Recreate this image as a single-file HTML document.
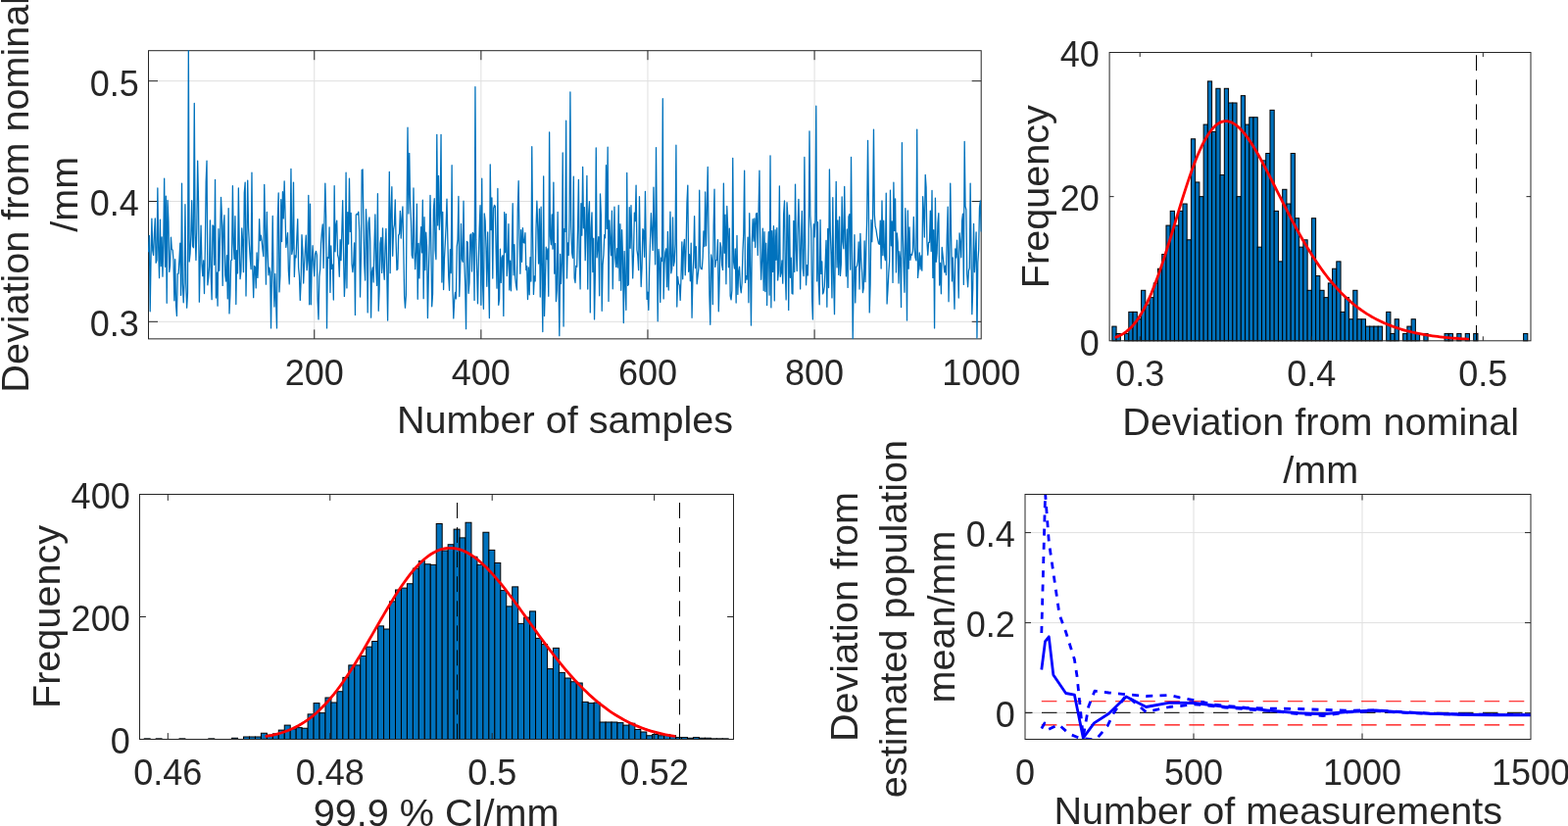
<!DOCTYPE html>
<html><head><meta charset="utf-8"><title>figure</title>
<style>html,body{margin:0;padding:0;background:#fff;overflow:hidden}svg{display:block}
text{font-family:'Liberation Sans', Arial, Helvetica, sans-serif;fill:#262626}</style></head>
<body><svg width="1600" height="843" viewBox="0 0 1600 843">
<rect width="1600" height="843" fill="#fff"/>
<line x1="320.76" y1="51.7" x2="320.76" y2="345.85" stroke="#dfdfdf" stroke-width="1"/>
<line x1="490.87" y1="51.7" x2="490.87" y2="345.85" stroke="#dfdfdf" stroke-width="1"/>
<line x1="660.98" y1="51.7" x2="660.98" y2="345.85" stroke="#dfdfdf" stroke-width="1"/>
<line x1="831.09" y1="51.7" x2="831.09" y2="345.85" stroke="#dfdfdf" stroke-width="1"/>
<line x1="151.5" y1="328.3" x2="1001.2" y2="328.3" stroke="#dfdfdf" stroke-width="1"/>
<line x1="151.5" y1="205.5" x2="1001.2" y2="205.5" stroke="#dfdfdf" stroke-width="1"/>
<line x1="151.5" y1="82.7" x2="1001.2" y2="82.7" stroke="#dfdfdf" stroke-width="1"/>
<rect x="151.5" y="51.7" width="849.7" height="294.15" fill="none" stroke="#262626" stroke-width="1"/>
<line x1="320.76" y1="345.85" x2="320.76" y2="336.35" stroke="#262626" stroke-width="1"/>
<line x1="320.76" y1="51.7" x2="320.76" y2="61.2" stroke="#262626" stroke-width="1"/>
<line x1="490.87" y1="345.85" x2="490.87" y2="336.35" stroke="#262626" stroke-width="1"/>
<line x1="490.87" y1="51.7" x2="490.87" y2="61.2" stroke="#262626" stroke-width="1"/>
<line x1="660.98" y1="345.85" x2="660.98" y2="336.35" stroke="#262626" stroke-width="1"/>
<line x1="660.98" y1="51.7" x2="660.98" y2="61.2" stroke="#262626" stroke-width="1"/>
<line x1="831.09" y1="345.85" x2="831.09" y2="336.35" stroke="#262626" stroke-width="1"/>
<line x1="831.09" y1="51.7" x2="831.09" y2="61.2" stroke="#262626" stroke-width="1"/>
<line x1="151.5" y1="328.3" x2="161" y2="328.3" stroke="#262626" stroke-width="1"/>
<line x1="1001.2" y1="328.3" x2="991.7" y2="328.3" stroke="#262626" stroke-width="1"/>
<line x1="151.5" y1="205.5" x2="161" y2="205.5" stroke="#262626" stroke-width="1"/>
<line x1="1001.2" y1="205.5" x2="991.7" y2="205.5" stroke="#262626" stroke-width="1"/>
<line x1="151.5" y1="82.7" x2="161" y2="82.7" stroke="#262626" stroke-width="1"/>
<line x1="1001.2" y1="82.7" x2="991.7" y2="82.7" stroke="#262626" stroke-width="1"/>
<clipPath id="c1"><rect x="151" y="51.2" width="850.7" height="295.15"/></clipPath>
<g clip-path="url(#c1)">
<polyline points="151.5,257.35 152.35,240.39 153.2,317.74 154.05,262.4 154.9,223.03 155.75,255.65 156.6,260.43 157.45,239 158.3,222.84 159.15,268.35 160.01,265.51 160.86,191.99 161.71,254.13 162.56,283.64 163.41,224.12 164.26,271.62 165.11,241.89 165.96,282.17 166.81,246.1 167.66,182.17 168.51,272.3 169.36,200.16 170.21,309.27 171.06,204.42 171.91,225.71 172.76,277.4 173.61,271.01 174.46,242.25 175.32,254.7 176.17,255.01 177.02,266.25 177.87,306.84 178.72,264.71 179.57,311.94 180.42,322.41 181.27,279.41 182.12,279.13 182.97,264.58 183.82,248.11 184.67,301.37 185.52,187.08 186.37,290.01 187.22,308.8 188.07,287.7 188.92,208.67 189.77,289.82 190.63,314.18 191.48,299.08 192.33,50.77 193.18,266.98 194.03,258.61 194.88,239.43 195.73,204.61 196.58,251.21 197.43,252.79 198.28,105.42 199.13,238.49 199.98,265.58 200.83,231.73 201.68,164.12 202.53,204.93 203.38,308.19 204.23,266.62 205.08,230.04 205.94,269.27 206.79,281.72 207.64,265.85 208.49,299.48 209.34,253.36 210.19,185.87 211.04,164.12 211.89,290.86 212.74,283.37 213.59,271.89 214.44,225 215.29,282.03 216.14,305.7 216.99,229.87 217.84,230.87 218.69,270.34 219.54,183.4 220.39,304.03 221.25,278.19 222.1,312.19 222.95,233.55 223.8,276.32 224.65,240.79 225.5,201.4 226.35,219.43 227.2,291.47 228.05,230.78 228.9,219.72 229.75,280.56 230.6,287.01 231.45,260.76 232.3,304.87 233.15,212.61 234,319.89 234.85,301.16 235.7,265.88 236.56,265.15 237.41,189.54 238.26,248.25 239.11,264.23 239.96,220.66 240.81,310.54 241.66,255.68 242.51,278.91 243.36,191.99 244.21,249.83 245.06,284.7 245.91,276.96 246.76,232.82 247.61,246.19 248.46,277.7 249.31,196.77 250.16,186.07 251.01,302.02 251.86,247.43 252.72,184.11 253.57,233 254.42,249.8 255.27,263.66 256.12,274.62 256.97,176.03 257.82,274.72 258.67,303.62 259.52,271.38 260.37,272.62 261.22,293.96 262.07,257.8 262.92,283.44 263.77,263.35 264.62,223.63 265.47,245.53 266.32,240.23 267.17,246.16 268.03,254.82 268.88,261.69 269.73,188.31 270.58,233.45 271.43,290.12 272.28,216.3 273.13,255.15 273.98,280.84 274.83,273.19 275.68,277.62 276.53,334.93 277.38,279.29 278.23,220.51 279.08,281.59 279.93,313.05 280.78,279.46 281.63,308.29 282.48,334.93 283.34,222.77 284.19,196.9 285.04,297.95 285.89,281.38 286.74,203.56 287.59,246.59 288.44,195.68 289.29,222.87 290.14,184.87 290.99,216.67 291.84,252.42 292.69,246.17 293.54,237.58 294.39,276.26 295.24,289.91 296.09,254.97 296.94,172.34 297.79,259.48 298.65,254 299.5,186.07 300.35,282.38 301.2,261 302.05,262.94 302.9,242.23 303.75,223.58 304.6,273.21 305.45,282.03 306.3,306.44 307.15,286.26 308,239.76 308.85,255.06 309.7,289.07 310.55,270.22 311.4,255.17 312.25,240.23 313.1,275.62 313.96,265.7 314.81,199.36 315.66,310.74 316.51,208.05 317.36,310.77 318.21,268.18 319.06,250.67 319.91,270.4 320.76,281.8 321.61,259.11 322.46,256.43 323.31,260.22 324.16,307.11 325.01,325.97 325.86,282.53 326.71,274.72 327.56,248.98 328.41,236.77 329.27,228.92 330.12,273.5 330.97,227.84 331.82,187.08 332.67,220.69 333.52,334.93 334.37,262.6 335.22,263.26 336.07,231.85 336.92,298.43 337.77,250.8 338.62,274.44 339.47,270.15 340.32,306.01 341.17,189.54 342.02,256.75 342.87,229.57 343.72,225.2 344.57,260 345.43,263.5 346.28,282.25 347.13,244.64 347.98,265.69 348.83,237.77 349.68,204.68 350.53,257.48 351.38,302.47 352.23,283.21 353.08,176.03 353.93,293.93 354.78,216.54 355.63,249.04 356.48,182.17 357.33,236.39 358.18,217.48 359.03,269.35 359.88,277.6 360.74,268.11 361.59,247.86 362.44,321.42 363.29,219.11 364.14,218.32 364.99,219.04 365.84,216.08 366.69,235.81 367.54,303.09 368.39,262.19 369.24,173.57 370.09,172.96 370.94,228.62 371.79,269.37 372.64,286.04 373.49,213.65 374.34,235.67 375.19,318.97 376.05,227.29 376.9,221.89 377.75,246.25 378.6,324.13 379.45,277.55 380.3,272.97 381.15,288.04 382,251.2 382.85,218.94 383.7,273.1 384.55,291.36 385.4,197.6 386.25,317.25 387.1,295.12 387.95,248.51 388.8,242.31 389.65,278.46 390.5,232.86 391.36,273.17 392.21,285.32 393.06,251.74 393.91,233.28 394.76,276.34 395.61,327.07 396.46,260.53 397.31,175.37 398.16,278.62 399.01,215.46 399.86,190.76 400.71,261.29 401.56,234.12 402.41,229.41 403.26,203.9 404.11,246.56 404.96,275.63 405.81,274.62 406.67,240.19 407.52,238.66 408.37,215.3 409.22,243.1 410.07,222.76 410.92,211.01 411.77,252.17 412.62,302.43 413.47,314.18 414.32,301.59 415.17,208.56 416.02,130.22 416.87,218.04 417.72,156.38 418.57,205.19 419.42,225.01 420.27,260.66 421.12,263.54 421.98,191.99 422.83,251.94 423.68,274.62 424.53,257.48 425.38,208.16 426.23,305.3 427.08,248.36 427.93,283.87 428.78,251.63 429.63,231.66 430.48,257.97 431.33,204.27 432.18,304.68 433.03,221.6 433.88,275.64 434.73,237.13 435.58,251.68 436.43,324.57 437.28,281.09 438.14,250.28 438.99,199.36 439.84,247.82 440.69,312.83 441.54,299.97 442.39,213.78 443.24,202.7 444.09,255.29 444.94,264.65 445.79,137.35 446.64,229.95 447.49,179.52 448.34,234.29 449.19,217.47 450.04,137.35 450.89,288.11 451.74,216.35 452.59,295.49 453.45,264.16 454.3,248.07 455.15,230.03 456,203.04 456.85,244.77 457.7,281.16 458.55,296.33 459.4,254.64 460.25,278.64 461.1,168.66 461.95,296.09 462.8,324.86 463.65,307.03 464.5,298.33 465.35,304.92 466.2,251.69 467.05,244.5 467.9,200.48 468.76,302.5 469.61,277.68 470.46,228.48 471.31,264.56 472.16,267.28 473.01,205.2 473.86,268.25 474.71,291.9 475.56,335.67 476.41,246.42 477.26,247.33 478.11,299.33 478.96,288.25 479.81,239.92 480.66,238.98 481.51,277.11 482.36,237.28 483.21,239.05 484.07,306.44 484.92,88.59 485.77,244.39 486.62,275.2 487.47,309.73 488.32,266.19 489.17,233.54 490.02,209.74 490.87,311.31 491.72,182.17 492.57,291.22 493.42,315.28 494.27,217.96 495.12,225.4 495.97,252.37 496.82,292.34 497.67,237 498.52,279.12 499.38,324.55 500.23,167.82 501.08,234.55 501.93,202.02 502.78,284.04 503.63,212.64 504.48,209.34 505.33,210.32 506.18,256.97 507.03,294.2 507.88,192.48 508.73,311.33 509.58,305.15 510.43,254.08 511.28,288.42 512.13,263.04 512.98,260.76 513.83,322.41 514.69,216.55 515.54,257.68 516.39,218.34 517.24,281.59 518.09,267.48 518.94,228.63 519.79,295.94 520.64,266.13 521.49,296.75 522.34,253.77 523.19,207.7 524.04,280.86 524.89,249.58 525.74,283.52 526.59,291.44 527.44,295.92 528.29,213.51 529.14,184.62 529.99,240.76 530.85,279.28 531.7,234.57 532.55,267.31 533.4,232.57 534.25,247.51 535.1,248.03 535.95,237.65 536.8,275.53 537.65,271.75 538.5,305.53 539.35,272.84 540.2,300.83 541.05,262.56 541.9,287.11 542.75,149.75 543.6,241.95 544.45,300.43 545.3,281.93 546.16,286.87 547.01,233.7 547.86,205.24 548.71,231.09 549.56,269.1 550.41,213.26 551.26,303.02 552.11,211.2 552.96,277.26 553.81,338.51 554.66,179.8 555.51,322.41 556.36,289.34 557.21,252.1 558.06,264.53 558.91,253.87 559.76,302.28 560.61,134.89 561.47,240.89 562.32,249.75 563.17,218.88 564.02,254.14 564.87,186.05 565.72,279.13 566.57,248.28 567.42,307.6 568.27,296.08 569.12,216.42 569.97,286.79 570.82,342.67 571.67,259.52 572.52,289.57 573.37,268.59 574.22,155.89 575.07,333.09 575.92,233.48 576.78,236.43 577.63,123.22 578.48,283.95 579.33,247.94 580.18,260.58 581.03,224.07 581.88,94 582.73,231.58 583.58,257.54 584.43,263.25 585.28,180.08 586.13,283.81 586.98,288.49 587.83,271.3 588.68,272.33 589.53,233.93 590.38,183.4 591.23,263.51 592.09,294.93 592.94,207.69 593.79,240.21 594.64,170.5 595.49,232.82 596.34,211.54 597.19,265.69 598.04,234.14 598.89,179.28 599.74,295 600.59,219.14 601.44,205.76 602.29,318.97 603.14,233.35 603.99,216.88 604.84,277.49 605.69,243.15 606.54,325.97 607.4,277.9 608.25,150.85 609.1,262.75 609.95,252.37 610.8,241.63 611.65,301.84 612.5,197.93 613.35,219.05 614.2,317.25 615.05,270.09 615.9,260.29 616.75,239.7 617.6,242.72 618.45,168.66 619.3,233.43 620.15,150.11 621,307.57 621.85,224.84 622.71,245.03 623.56,260.79 624.41,215.14 625.26,294.85 626.11,252.14 626.96,211.12 627.81,263.54 628.66,272.38 629.51,253.64 630.36,273.02 631.21,209.6 632.06,286.4 632.91,228.71 633.76,296.32 634.61,234.74 635.46,260.74 636.31,329.51 637.16,256.44 638.01,290.7 638.87,316.39 639.72,176.52 640.57,291.4 641.42,290.28 642.27,211.59 643.12,253.26 643.97,209.61 644.82,246.53 645.67,283.88 646.52,259.76 647.37,217.07 648.22,225.7 649.07,189.04 649.92,254.98 650.77,260.84 651.62,275.62 652.47,200.73 653.32,255.67 654.18,292.58 655.03,273.21 655.88,233.56 656.73,235.83 657.58,262.26 658.43,195.43 659.28,255.31 660.13,305.39 660.98,298.27 661.83,316.39 662.68,273.34 663.53,244.8 664.38,217.62 665.23,235.66 666.08,255.47 666.93,191.09 667.78,234.89 668.63,269.86 669.49,150.61 670.34,242.92 671.19,327.81 672.04,254.43 672.89,263.17 673.74,308.57 674.59,263.27 675.44,266.57 676.29,100.75 677.14,304.93 677.99,270.07 678.84,257.58 679.69,253.78 680.54,292.69 681.39,236.47 682.24,296.08 683.09,265.22 683.94,216.16 684.8,278.81 685.65,274.39 686.5,221.84 687.35,271.23 688.2,266.83 689.05,248.98 689.9,148.15 690.75,312.99 691.6,282.39 692.45,289.38 693.3,291.03 694.15,306.44 695,283.25 695.85,246.81 696.7,284.74 697.55,252.49 698.4,244.42 699.25,280.83 700.11,252.49 700.96,207.35 701.81,189.04 702.66,277.23 703.51,259.68 704.36,286.74 705.21,248.1 706.06,324.25 706.91,282.33 707.76,264.23 708.61,220.6 709.46,273.59 710.31,251.55 711.16,289.76 712.01,282.25 712.86,274.19 713.71,194.17 714.56,272.14 715.42,274.43 716.27,274.75 717.12,263.07 717.97,235.95 718.82,251.59 719.67,196 720.52,250.74 721.37,213.51 722.22,170.5 723.07,237.79 723.92,301.66 724.77,331.25 725.62,259.79 726.47,265.49 727.32,310.64 728.17,230.63 729.02,193.22 729.87,272.46 730.72,265.76 731.58,265.19 732.43,244.62 733.28,317.74 734.13,286.38 734.98,247.6 735.83,252.39 736.68,270.53 737.53,275.46 738.38,187.08 739.23,258.28 740.08,219.14 740.93,289.84 741.78,210.45 742.63,231.52 743.48,272.84 744.33,233.05 745.18,302.03 746.03,305.91 746.89,296.37 747.74,161.29 748.59,267.17 749.44,274.01 750.29,253.93 751.14,309.02 751.99,240.41 752.84,300.41 753.69,277.37 754.54,272.27 755.39,292.05 756.24,298.77 757.09,288.95 757.94,256.49 758.79,237.97 759.64,174.06 760.49,288.44 761.34,281.61 762.2,285.05 763.05,242.06 763.9,308.73 764.75,217.75 765.6,273.07 766.45,331.98 767.3,246.34 768.15,223.71 769,246.19 769.85,222.93 770.7,252.48 771.55,218.11 772.4,217.62 773.25,260.58 774.1,213.65 774.95,174.06 775.8,254.11 776.65,285.23 777.51,266.35 778.36,233.17 779.21,296.56 780.06,236.72 780.91,297.6 781.76,248.09 782.61,311.48 783.46,260.69 784.31,236.73 785.16,301.16 786.01,158.84 786.86,313.87 787.71,235.62 788.56,277.42 789.41,230.73 790.26,306.95 791.11,234.72 791.96,265.27 792.82,232.54 793.67,285.98 794.52,276.28 795.37,189.86 796.22,282.24 797.07,278.57 797.92,266.01 798.77,289.18 799.62,218.98 800.47,205.02 801.32,278.24 802.17,305.88 803.02,206.73 803.87,221.59 804.72,316.39 805.57,219.76 806.42,283.27 807.27,263.09 808.13,299.52 808.98,300.08 809.83,225.41 810.68,277.55 811.53,188.07 812.38,254.53 813.23,276.56 814.08,232.74 814.93,203.37 815.78,240.75 816.63,294.93 817.48,245.07 818.33,215.46 819.18,273.35 820.03,281.58 820.88,160.43 821.73,252.42 822.58,290.85 823.43,270.6 824.29,281.05 825.14,247.49 825.99,133.78 826.84,219.98 827.69,234.48 828.54,304.39 829.39,325.97 830.24,228.69 831.09,241.91 831.94,224.07 832.79,108.24 833.64,286.92 834.49,226.73 835.34,289.93 836.19,310.73 837.04,224.48 837.89,279.37 838.74,266.85 839.6,299.92 840.45,297.91 841.3,292.25 842.15,269.46 843,245.44 843.85,313.33 844.7,233.51 845.55,293.61 846.4,172.96 847.25,235.39 848.1,259.97 848.95,303.91 849.8,201.6 850.65,283.19 851.5,320.69 852.35,251.15 853.2,185.36 854.05,272.92 854.91,224.92 855.76,280.38 856.61,221.25 857.46,281.38 858.31,269.65 859.16,200.83 860.01,246.68 860.86,253.77 861.71,190.37 862.56,245.71 863.41,281.94 864.26,234.01 865.11,293.43 865.96,221.14 866.81,218.63 867.66,275.19 868.51,160.43 869.36,251.77 870.22,345.61 871.07,287.72 871.92,239.6 872.77,308.97 873.62,272.41 874.47,271.67 875.32,265.91 876.17,246.9 877.02,295.07 877.87,238.38 878.72,263.28 879.57,277.2 880.42,298.51 881.27,293.83 882.12,245.83 882.97,287.64 883.82,254.56 884.67,222.23 885.53,143.36 886.38,209.82 887.23,318.97 888.08,290.24 888.93,224.52 889.78,246.7 890.63,221.21 891.48,132.07 892.33,218.93 893.18,231.2 894.03,234.34 894.88,240.37 895.73,244.73 896.58,248.76 897.43,249.31 898.28,225.13 899.13,274 899.98,205 900.84,260.72 901.69,225.26 902.54,260.29 903.39,265.67 904.24,197.13 905.09,310 905.94,296.28 906.79,278.91 907.64,266.92 908.49,194.24 909.34,250.85 910.19,226 911.04,288.45 911.89,186.22 912.74,235.43 913.59,202.85 914.44,277.97 915.29,237.81 916.14,247.41 917,289.08 917.85,256.59 918.7,265.84 919.55,313.61 920.4,145.57 921.25,239.71 922.1,272.48 922.95,298.28 923.8,212.56 924.65,248.26 925.5,327.07 926.35,215.02 927.2,274.19 928.05,232 928.9,265.46 929.75,259.57 930.6,260.22 931.45,256.27 932.31,221.48 933.16,252.82 934.01,262.81 934.86,265.94 935.71,132.07 936.56,283.44 937.41,273.59 938.26,257.81 939.11,274.94 939.96,261 940.81,276.16 941.66,200.64 942.51,216.37 943.36,241.99 944.21,178.36 945.06,191.05 945.91,246.56 946.76,260.23 947.62,247.33 948.47,247.23 949.32,215.13 950.17,256.59 951.02,194.49 951.87,283.43 952.72,234.65 953.57,334.93 954.42,202.06 955.27,267.29 956.12,258.09 956.97,227.7 957.82,217.61 958.67,291.02 959.52,268.37 960.37,299.84 961.22,252.43 962.07,260.63 962.93,269.02 963.78,277.82 964.63,271.23 965.48,280.59 966.33,240.14 967.18,211.1 968.03,307.85 968.88,260.88 969.73,187.08 970.58,240.5 971.43,286.97 972.28,262.8 973.13,289.48 973.98,315.28 974.83,253.94 975.68,262.86 976.53,245.09 977.38,265.58 978.24,304.05 979.09,237.87 979.94,247.66 980.79,262.83 981.64,225.34 982.49,218.12 983.34,290.42 984.19,144.47 985.04,210.34 985.89,213.98 986.74,280.07 987.59,292.81 988.44,276.41 989.29,273.53 990.14,187.08 990.99,255.29 991.84,320.69 992.69,294.36 993.55,228.3 994.4,277.72 995.25,259.87 996.1,236.94 996.95,344.88 997.8,268.08 998.65,255.14 999.5,212.13 1000.35,204.85 1001.2,236.59" fill="none" stroke="#0072bd" stroke-width="1.3" stroke-linejoin="round"/>
</g>
<text x="320.76" y="393" text-anchor="middle" font-size="36">200</text>
<text x="490.87" y="393" text-anchor="middle" font-size="36">400</text>
<text x="660.98" y="393" text-anchor="middle" font-size="36">600</text>
<text x="831.09" y="393" text-anchor="middle" font-size="36">800</text>
<text x="1001.2" y="393" text-anchor="middle" font-size="36">1000</text>
<text x="141.8" y="343.1" text-anchor="end" font-size="36">0.3</text>
<text x="141.8" y="220.3" text-anchor="end" font-size="36">0.4</text>
<text x="141.8" y="97.5" text-anchor="end" font-size="36">0.5</text>
<text x="576.5" y="442.2" text-anchor="middle" font-size="39.6">Number of samples</text>
<text x="29" y="198.28" text-anchor="middle" font-size="39.6" transform="rotate(-90 29 198.28)">Deviation from nominal</text>
<text x="79" y="198.28" text-anchor="middle" font-size="39.6" transform="rotate(-90 79 198.28)">/mm</text>
<rect x="1134.85" y="333.09" width="4.24" height="14.71" fill="#0072bd" stroke="#000" stroke-width="1"/>
<rect x="1139.09" y="340.44" width="4.24" height="7.36" fill="#0072bd" stroke="#000" stroke-width="1"/>
<rect x="1147.57" y="340.44" width="4.24" height="7.36" fill="#0072bd" stroke="#000" stroke-width="1"/>
<rect x="1151.81" y="318.37" width="4.24" height="29.43" fill="#0072bd" stroke="#000" stroke-width="1"/>
<rect x="1156.05" y="318.37" width="4.24" height="29.43" fill="#0072bd" stroke="#000" stroke-width="1"/>
<rect x="1160.29" y="325.73" width="4.24" height="22.07" fill="#0072bd" stroke="#000" stroke-width="1"/>
<rect x="1164.53" y="296.3" width="4.24" height="51.5" fill="#0072bd" stroke="#000" stroke-width="1"/>
<rect x="1168.77" y="311.01" width="4.24" height="36.79" fill="#0072bd" stroke="#000" stroke-width="1"/>
<rect x="1173.01" y="303.66" width="4.24" height="44.14" fill="#0072bd" stroke="#000" stroke-width="1"/>
<rect x="1177.25" y="288.94" width="4.24" height="58.86" fill="#0072bd" stroke="#000" stroke-width="1"/>
<rect x="1181.49" y="274.23" width="4.24" height="73.58" fill="#0072bd" stroke="#000" stroke-width="1"/>
<rect x="1185.73" y="259.51" width="4.24" height="88.29" fill="#0072bd" stroke="#000" stroke-width="1"/>
<rect x="1189.97" y="230.08" width="4.24" height="117.72" fill="#0072bd" stroke="#000" stroke-width="1"/>
<rect x="1194.21" y="215.37" width="4.24" height="132.44" fill="#0072bd" stroke="#000" stroke-width="1"/>
<rect x="1198.45" y="230.08" width="4.24" height="117.72" fill="#0072bd" stroke="#000" stroke-width="1"/>
<rect x="1202.69" y="215.37" width="4.24" height="132.44" fill="#0072bd" stroke="#000" stroke-width="1"/>
<rect x="1206.93" y="208.01" width="4.24" height="139.79" fill="#0072bd" stroke="#000" stroke-width="1"/>
<rect x="1211.17" y="244.8" width="4.24" height="103" fill="#0072bd" stroke="#000" stroke-width="1"/>
<rect x="1215.41" y="141.79" width="4.24" height="206.01" fill="#0072bd" stroke="#000" stroke-width="1"/>
<rect x="1219.65" y="185.94" width="4.24" height="161.87" fill="#0072bd" stroke="#000" stroke-width="1"/>
<rect x="1223.89" y="200.65" width="4.24" height="147.15" fill="#0072bd" stroke="#000" stroke-width="1"/>
<rect x="1228.13" y="127.08" width="4.24" height="220.72" fill="#0072bd" stroke="#000" stroke-width="1"/>
<rect x="1232.37" y="82.93" width="4.24" height="264.87" fill="#0072bd" stroke="#000" stroke-width="1"/>
<rect x="1236.61" y="134.43" width="4.24" height="213.37" fill="#0072bd" stroke="#000" stroke-width="1"/>
<rect x="1240.85" y="90.29" width="4.24" height="257.51" fill="#0072bd" stroke="#000" stroke-width="1"/>
<rect x="1245.09" y="178.58" width="4.24" height="169.22" fill="#0072bd" stroke="#000" stroke-width="1"/>
<rect x="1249.33" y="90.29" width="4.24" height="257.51" fill="#0072bd" stroke="#000" stroke-width="1"/>
<rect x="1253.57" y="105" width="4.24" height="242.8" fill="#0072bd" stroke="#000" stroke-width="1"/>
<rect x="1257.81" y="105" width="4.24" height="242.8" fill="#0072bd" stroke="#000" stroke-width="1"/>
<rect x="1262.05" y="200.65" width="4.24" height="147.15" fill="#0072bd" stroke="#000" stroke-width="1"/>
<rect x="1266.29" y="97.65" width="4.24" height="250.16" fill="#0072bd" stroke="#000" stroke-width="1"/>
<rect x="1270.53" y="127.08" width="4.24" height="220.72" fill="#0072bd" stroke="#000" stroke-width="1"/>
<rect x="1274.77" y="119.72" width="4.24" height="228.08" fill="#0072bd" stroke="#000" stroke-width="1"/>
<rect x="1279.01" y="119.72" width="4.24" height="228.08" fill="#0072bd" stroke="#000" stroke-width="1"/>
<rect x="1283.25" y="252.15" width="4.24" height="95.65" fill="#0072bd" stroke="#000" stroke-width="1"/>
<rect x="1287.49" y="163.86" width="4.24" height="183.94" fill="#0072bd" stroke="#000" stroke-width="1"/>
<rect x="1291.73" y="156.51" width="4.24" height="191.29" fill="#0072bd" stroke="#000" stroke-width="1"/>
<rect x="1295.97" y="112.36" width="4.24" height="235.44" fill="#0072bd" stroke="#000" stroke-width="1"/>
<rect x="1300.21" y="215.37" width="4.24" height="132.44" fill="#0072bd" stroke="#000" stroke-width="1"/>
<rect x="1304.45" y="266.87" width="4.24" height="80.93" fill="#0072bd" stroke="#000" stroke-width="1"/>
<rect x="1308.69" y="193.29" width="4.24" height="154.51" fill="#0072bd" stroke="#000" stroke-width="1"/>
<rect x="1312.93" y="208.01" width="4.24" height="139.79" fill="#0072bd" stroke="#000" stroke-width="1"/>
<rect x="1317.17" y="156.51" width="4.24" height="191.29" fill="#0072bd" stroke="#000" stroke-width="1"/>
<rect x="1321.41" y="222.72" width="4.24" height="125.08" fill="#0072bd" stroke="#000" stroke-width="1"/>
<rect x="1325.65" y="252.15" width="4.24" height="95.65" fill="#0072bd" stroke="#000" stroke-width="1"/>
<rect x="1329.89" y="244.8" width="4.24" height="103" fill="#0072bd" stroke="#000" stroke-width="1"/>
<rect x="1334.13" y="296.3" width="4.24" height="51.5" fill="#0072bd" stroke="#000" stroke-width="1"/>
<rect x="1338.37" y="222.72" width="4.24" height="125.08" fill="#0072bd" stroke="#000" stroke-width="1"/>
<rect x="1342.61" y="281.58" width="4.24" height="66.22" fill="#0072bd" stroke="#000" stroke-width="1"/>
<rect x="1346.85" y="296.3" width="4.24" height="51.5" fill="#0072bd" stroke="#000" stroke-width="1"/>
<rect x="1351.09" y="303.66" width="4.24" height="44.14" fill="#0072bd" stroke="#000" stroke-width="1"/>
<rect x="1355.33" y="288.94" width="4.24" height="58.86" fill="#0072bd" stroke="#000" stroke-width="1"/>
<rect x="1359.57" y="274.23" width="4.24" height="73.58" fill="#0072bd" stroke="#000" stroke-width="1"/>
<rect x="1363.81" y="266.87" width="4.24" height="80.93" fill="#0072bd" stroke="#000" stroke-width="1"/>
<rect x="1368.05" y="318.37" width="4.24" height="29.43" fill="#0072bd" stroke="#000" stroke-width="1"/>
<rect x="1372.29" y="303.66" width="4.24" height="44.14" fill="#0072bd" stroke="#000" stroke-width="1"/>
<rect x="1376.53" y="325.73" width="4.24" height="22.07" fill="#0072bd" stroke="#000" stroke-width="1"/>
<rect x="1380.77" y="296.3" width="4.24" height="51.5" fill="#0072bd" stroke="#000" stroke-width="1"/>
<rect x="1385.01" y="325.73" width="4.24" height="22.07" fill="#0072bd" stroke="#000" stroke-width="1"/>
<rect x="1389.25" y="325.73" width="4.24" height="22.07" fill="#0072bd" stroke="#000" stroke-width="1"/>
<rect x="1393.49" y="333.09" width="4.24" height="14.71" fill="#0072bd" stroke="#000" stroke-width="1"/>
<rect x="1397.73" y="333.09" width="4.24" height="14.71" fill="#0072bd" stroke="#000" stroke-width="1"/>
<rect x="1401.97" y="333.09" width="4.24" height="14.71" fill="#0072bd" stroke="#000" stroke-width="1"/>
<rect x="1406.21" y="333.09" width="4.24" height="14.71" fill="#0072bd" stroke="#000" stroke-width="1"/>
<rect x="1414.69" y="318.37" width="4.24" height="29.43" fill="#0072bd" stroke="#000" stroke-width="1"/>
<rect x="1418.93" y="340.44" width="4.24" height="7.36" fill="#0072bd" stroke="#000" stroke-width="1"/>
<rect x="1423.17" y="325.73" width="4.24" height="22.07" fill="#0072bd" stroke="#000" stroke-width="1"/>
<rect x="1431.65" y="340.44" width="4.24" height="7.36" fill="#0072bd" stroke="#000" stroke-width="1"/>
<rect x="1435.89" y="333.09" width="4.24" height="14.71" fill="#0072bd" stroke="#000" stroke-width="1"/>
<rect x="1440.13" y="325.73" width="4.24" height="22.07" fill="#0072bd" stroke="#000" stroke-width="1"/>
<rect x="1444.37" y="340.44" width="4.24" height="7.36" fill="#0072bd" stroke="#000" stroke-width="1"/>
<rect x="1452.85" y="340.44" width="4.24" height="7.36" fill="#0072bd" stroke="#000" stroke-width="1"/>
<rect x="1474.05" y="340.44" width="4.24" height="7.36" fill="#0072bd" stroke="#000" stroke-width="1"/>
<rect x="1478.29" y="340.44" width="4.24" height="7.36" fill="#0072bd" stroke="#000" stroke-width="1"/>
<rect x="1486.77" y="340.44" width="4.24" height="7.36" fill="#0072bd" stroke="#000" stroke-width="1"/>
<rect x="1495.25" y="340.44" width="4.24" height="7.36" fill="#0072bd" stroke="#000" stroke-width="1"/>
<rect x="1503.73" y="340.44" width="4.24" height="7.36" fill="#0072bd" stroke="#000" stroke-width="1"/>
<rect x="1554.61" y="340.44" width="4.24" height="7.36" fill="#0072bd" stroke="#000" stroke-width="1"/>
<polyline points="1138.8,344.14 1141.38,343.11 1143.97,341.85 1146.55,340.34 1149.13,338.54 1151.71,336.42 1154.3,333.95 1156.88,331.11 1159.46,327.86 1162.04,324.18 1164.63,320.06 1167.21,315.49 1169.79,310.46 1172.38,304.96 1174.96,299.02 1177.54,292.64 1180.12,285.85 1182.71,278.68 1185.29,271.17 1187.87,263.35 1190.45,255.28 1193.04,247.01 1195.62,238.59 1198.2,230.1 1200.79,221.59 1203.37,213.12 1205.95,204.75 1208.53,196.56 1211.12,188.59 1213.7,180.9 1216.28,173.56 1218.86,166.6 1221.45,160.06 1224.03,154 1226.61,148.44 1229.2,143.41 1231.78,138.93 1234.36,135.01 1236.94,131.67 1239.53,128.91 1242.11,126.74 1244.69,125.14 1247.27,124.11 1249.86,123.64 1252.44,123.7 1255.02,124.27 1257.61,125.34 1260.19,126.88 1262.77,128.87 1265.35,131.26 1267.94,134.04 1270.52,137.17 1273.1,140.63 1275.68,144.37 1278.27,148.38 1280.85,152.63 1283.43,157.07 1286.02,161.69 1288.6,166.46 1291.18,171.35 1293.76,176.33 1296.35,181.39 1298.93,186.5 1301.51,191.64 1304.09,196.8 1306.68,201.94 1309.26,207.07 1311.84,212.15 1314.43,217.18 1317.01,222.16 1319.59,227.05 1322.17,231.86 1324.76,236.58 1327.34,241.21 1329.92,245.72 1332.51,250.12 1335.09,254.41 1337.67,258.58 1340.25,262.63 1342.84,266.55 1345.42,270.35 1348,274.02 1350.58,277.57 1353.17,280.99 1355.75,284.28 1358.33,287.45 1360.92,290.5 1363.5,293.43 1366.08,296.23 1368.66,298.93 1371.25,301.5 1373.83,303.97 1376.41,306.33 1378.99,308.59 1381.58,310.74 1384.16,312.79 1386.74,314.75 1389.33,316.61 1391.91,318.38 1394.49,320.07 1397.07,321.67 1399.66,323.2 1402.24,324.64 1404.82,326.02 1407.4,327.32 1409.99,328.55 1412.57,329.72 1415.15,330.82 1417.74,331.87 1420.32,332.86 1422.9,333.79 1425.48,334.68 1428.07,335.51 1430.65,336.29 1433.23,337.04 1435.81,337.73 1438.4,338.39 1440.98,339.01 1443.56,339.59 1446.15,340.14 1448.73,340.66 1451.31,341.14 1453.89,341.59 1456.48,342.02 1459.06,342.42 1461.64,342.8 1464.22,343.15 1466.81,343.48 1469.39,343.78 1471.97,344.07 1474.56,344.34 1477.14,344.59 1479.72,344.83 1482.3,345.05 1484.89,345.25 1487.47,345.44 1490.05,345.62 1492.63,345.79 1495.22,345.94 1497.8,346.08" fill="none" stroke="#ff0000" stroke-width="2.8" stroke-linejoin="round" stroke-linecap="round"/>
<line x1="1506.5" y1="347.8" x2="1506.5" y2="53.5" stroke="#000" stroke-width="1" stroke-dasharray="15.9 9.16"/>
<rect x="1132.1" y="53.5" width="429.9" height="294.3" fill="none" stroke="#262626" stroke-width="1"/>
<line x1="1163.2" y1="347.8" x2="1163.2" y2="343.3" stroke="#262626" stroke-width="1"/>
<line x1="1163.2" y1="53.5" x2="1163.2" y2="58" stroke="#262626" stroke-width="1"/>
<line x1="1338.25" y1="347.8" x2="1338.25" y2="343.3" stroke="#262626" stroke-width="1"/>
<line x1="1338.25" y1="53.5" x2="1338.25" y2="58" stroke="#262626" stroke-width="1"/>
<line x1="1513.3" y1="347.8" x2="1513.3" y2="343.3" stroke="#262626" stroke-width="1"/>
<line x1="1513.3" y1="53.5" x2="1513.3" y2="58" stroke="#262626" stroke-width="1"/>
<line x1="1132.1" y1="200.65" x2="1136.6" y2="200.65" stroke="#262626" stroke-width="1"/>
<line x1="1562" y1="200.65" x2="1557.5" y2="200.65" stroke="#262626" stroke-width="1"/>
<text x="1163.2" y="394" text-anchor="middle" font-size="36">0.3</text>
<text x="1338.25" y="394" text-anchor="middle" font-size="36">0.4</text>
<text x="1513.3" y="394" text-anchor="middle" font-size="36">0.5</text>
<text x="1121.9" y="362.6" text-anchor="end" font-size="36">0</text>
<text x="1121.9" y="215.45" text-anchor="end" font-size="36">20</text>
<text x="1121.9" y="68.3" text-anchor="end" font-size="36">40</text>
<text x="1069.8" y="200.65" text-anchor="middle" font-size="39.6" transform="rotate(-90 1069.8 200.65)">Frequency</text>
<text x="1347.7" y="443.6" text-anchor="middle" font-size="39.6">Deviation from nominal</text>
<text x="1347.7" y="492.5" text-anchor="middle" font-size="39.6">/mm</text>
<rect x="147.22" y="753.88" width="5.96" height="0.62" fill="#0072bd" stroke="#000" stroke-width="1"/>
<rect x="159.14" y="753.88" width="5.96" height="0.62" fill="#0072bd" stroke="#000" stroke-width="1"/>
<rect x="182.98" y="753.88" width="5.96" height="0.62" fill="#0072bd" stroke="#000" stroke-width="1"/>
<rect x="212.78" y="753.88" width="5.96" height="0.62" fill="#0072bd" stroke="#000" stroke-width="1"/>
<rect x="236.62" y="753.25" width="5.96" height="1.25" fill="#0072bd" stroke="#000" stroke-width="1"/>
<rect x="248.54" y="752" width="5.96" height="2.5" fill="#0072bd" stroke="#000" stroke-width="1"/>
<rect x="254.5" y="752" width="5.96" height="2.5" fill="#0072bd" stroke="#000" stroke-width="1"/>
<rect x="260.46" y="752" width="5.96" height="2.5" fill="#0072bd" stroke="#000" stroke-width="1"/>
<rect x="266.42" y="748.25" width="5.96" height="6.25" fill="#0072bd" stroke="#000" stroke-width="1"/>
<rect x="272.38" y="750.12" width="5.96" height="4.38" fill="#0072bd" stroke="#000" stroke-width="1"/>
<rect x="278.34" y="748.88" width="5.96" height="5.62" fill="#0072bd" stroke="#000" stroke-width="1"/>
<rect x="284.3" y="745.12" width="5.96" height="9.38" fill="#0072bd" stroke="#000" stroke-width="1"/>
<rect x="290.26" y="740.12" width="5.96" height="14.38" fill="#0072bd" stroke="#000" stroke-width="1"/>
<rect x="296.22" y="743.88" width="5.96" height="10.62" fill="#0072bd" stroke="#000" stroke-width="1"/>
<rect x="302.18" y="742.62" width="5.96" height="11.88" fill="#0072bd" stroke="#000" stroke-width="1"/>
<rect x="308.14" y="743.25" width="5.96" height="11.25" fill="#0072bd" stroke="#000" stroke-width="1"/>
<rect x="314.1" y="728.88" width="5.96" height="25.62" fill="#0072bd" stroke="#000" stroke-width="1"/>
<rect x="320.06" y="717.62" width="5.96" height="36.88" fill="#0072bd" stroke="#000" stroke-width="1"/>
<rect x="326.02" y="727.62" width="5.96" height="26.88" fill="#0072bd" stroke="#000" stroke-width="1"/>
<rect x="331.98" y="712" width="5.96" height="42.5" fill="#0072bd" stroke="#000" stroke-width="1"/>
<rect x="337.94" y="717" width="5.96" height="37.5" fill="#0072bd" stroke="#000" stroke-width="1"/>
<rect x="343.9" y="705.75" width="5.96" height="48.75" fill="#0072bd" stroke="#000" stroke-width="1"/>
<rect x="349.86" y="691.38" width="5.96" height="63.12" fill="#0072bd" stroke="#000" stroke-width="1"/>
<rect x="355.82" y="678.88" width="5.96" height="75.62" fill="#0072bd" stroke="#000" stroke-width="1"/>
<rect x="361.78" y="678.88" width="5.96" height="75.62" fill="#0072bd" stroke="#000" stroke-width="1"/>
<rect x="367.74" y="669.5" width="5.96" height="85" fill="#0072bd" stroke="#000" stroke-width="1"/>
<rect x="373.7" y="660.12" width="5.96" height="94.38" fill="#0072bd" stroke="#000" stroke-width="1"/>
<rect x="379.66" y="654.5" width="5.96" height="100" fill="#0072bd" stroke="#000" stroke-width="1"/>
<rect x="385.62" y="638.88" width="5.96" height="115.62" fill="#0072bd" stroke="#000" stroke-width="1"/>
<rect x="391.58" y="642" width="5.96" height="112.5" fill="#0072bd" stroke="#000" stroke-width="1"/>
<rect x="397.54" y="613.88" width="5.96" height="140.62" fill="#0072bd" stroke="#000" stroke-width="1"/>
<rect x="403.5" y="602" width="5.96" height="152.5" fill="#0072bd" stroke="#000" stroke-width="1"/>
<rect x="409.46" y="600.12" width="5.96" height="154.38" fill="#0072bd" stroke="#000" stroke-width="1"/>
<rect x="415.42" y="595.75" width="5.96" height="158.75" fill="#0072bd" stroke="#000" stroke-width="1"/>
<rect x="421.38" y="580.12" width="5.96" height="174.38" fill="#0072bd" stroke="#000" stroke-width="1"/>
<rect x="427.34" y="572.62" width="5.96" height="181.88" fill="#0072bd" stroke="#000" stroke-width="1"/>
<rect x="433.3" y="575.75" width="5.96" height="178.75" fill="#0072bd" stroke="#000" stroke-width="1"/>
<rect x="439.26" y="576.38" width="5.96" height="178.12" fill="#0072bd" stroke="#000" stroke-width="1"/>
<rect x="445.22" y="534.5" width="5.96" height="220" fill="#0072bd" stroke="#000" stroke-width="1"/>
<rect x="451.18" y="562" width="5.96" height="192.5" fill="#0072bd" stroke="#000" stroke-width="1"/>
<rect x="457.14" y="555.75" width="5.96" height="198.75" fill="#0072bd" stroke="#000" stroke-width="1"/>
<rect x="463.1" y="540.12" width="5.96" height="214.38" fill="#0072bd" stroke="#000" stroke-width="1"/>
<rect x="469.06" y="548.88" width="5.96" height="205.62" fill="#0072bd" stroke="#000" stroke-width="1"/>
<rect x="475.02" y="533.25" width="5.96" height="221.25" fill="#0072bd" stroke="#000" stroke-width="1"/>
<rect x="480.98" y="568.25" width="5.96" height="186.25" fill="#0072bd" stroke="#000" stroke-width="1"/>
<rect x="486.94" y="576.38" width="5.96" height="178.12" fill="#0072bd" stroke="#000" stroke-width="1"/>
<rect x="492.9" y="543.25" width="5.96" height="211.25" fill="#0072bd" stroke="#000" stroke-width="1"/>
<rect x="498.86" y="561.38" width="5.96" height="193.12" fill="#0072bd" stroke="#000" stroke-width="1"/>
<rect x="504.82" y="574.5" width="5.96" height="180" fill="#0072bd" stroke="#000" stroke-width="1"/>
<rect x="510.78" y="602.62" width="5.96" height="151.88" fill="#0072bd" stroke="#000" stroke-width="1"/>
<rect x="516.74" y="618.88" width="5.96" height="135.62" fill="#0072bd" stroke="#000" stroke-width="1"/>
<rect x="522.7" y="598.88" width="5.96" height="155.62" fill="#0072bd" stroke="#000" stroke-width="1"/>
<rect x="528.66" y="636.38" width="5.96" height="118.12" fill="#0072bd" stroke="#000" stroke-width="1"/>
<rect x="534.62" y="630.12" width="5.96" height="124.38" fill="#0072bd" stroke="#000" stroke-width="1"/>
<rect x="540.58" y="623.88" width="5.96" height="130.62" fill="#0072bd" stroke="#000" stroke-width="1"/>
<rect x="546.54" y="651.38" width="5.96" height="103.12" fill="#0072bd" stroke="#000" stroke-width="1"/>
<rect x="552.5" y="657.62" width="5.96" height="96.88" fill="#0072bd" stroke="#000" stroke-width="1"/>
<rect x="558.46" y="682.62" width="5.96" height="71.88" fill="#0072bd" stroke="#000" stroke-width="1"/>
<rect x="564.42" y="661.38" width="5.96" height="93.12" fill="#0072bd" stroke="#000" stroke-width="1"/>
<rect x="570.38" y="686.38" width="5.96" height="68.12" fill="#0072bd" stroke="#000" stroke-width="1"/>
<rect x="576.34" y="692" width="5.96" height="62.5" fill="#0072bd" stroke="#000" stroke-width="1"/>
<rect x="582.3" y="695.75" width="5.96" height="58.75" fill="#0072bd" stroke="#000" stroke-width="1"/>
<rect x="588.26" y="697" width="5.96" height="57.5" fill="#0072bd" stroke="#000" stroke-width="1"/>
<rect x="594.22" y="716.38" width="5.96" height="38.12" fill="#0072bd" stroke="#000" stroke-width="1"/>
<rect x="600.18" y="717.62" width="5.96" height="36.88" fill="#0072bd" stroke="#000" stroke-width="1"/>
<rect x="606.14" y="717" width="5.96" height="37.5" fill="#0072bd" stroke="#000" stroke-width="1"/>
<rect x="612.1" y="737" width="5.96" height="17.5" fill="#0072bd" stroke="#000" stroke-width="1"/>
<rect x="618.06" y="737" width="5.96" height="17.5" fill="#0072bd" stroke="#000" stroke-width="1"/>
<rect x="624.02" y="737" width="5.96" height="17.5" fill="#0072bd" stroke="#000" stroke-width="1"/>
<rect x="629.98" y="737.62" width="5.96" height="16.88" fill="#0072bd" stroke="#000" stroke-width="1"/>
<rect x="635.94" y="740.12" width="5.96" height="14.38" fill="#0072bd" stroke="#000" stroke-width="1"/>
<rect x="641.9" y="738.25" width="5.96" height="16.25" fill="#0072bd" stroke="#000" stroke-width="1"/>
<rect x="647.86" y="744.5" width="5.96" height="10" fill="#0072bd" stroke="#000" stroke-width="1"/>
<rect x="653.82" y="747" width="5.96" height="7.5" fill="#0072bd" stroke="#000" stroke-width="1"/>
<rect x="659.78" y="750.75" width="5.96" height="3.75" fill="#0072bd" stroke="#000" stroke-width="1"/>
<rect x="665.74" y="749.5" width="5.96" height="5" fill="#0072bd" stroke="#000" stroke-width="1"/>
<rect x="671.7" y="750.75" width="5.96" height="3.75" fill="#0072bd" stroke="#000" stroke-width="1"/>
<rect x="677.66" y="749.5" width="5.96" height="5" fill="#0072bd" stroke="#000" stroke-width="1"/>
<rect x="683.62" y="750.75" width="5.96" height="3.75" fill="#0072bd" stroke="#000" stroke-width="1"/>
<rect x="689.58" y="752.62" width="5.96" height="1.88" fill="#0072bd" stroke="#000" stroke-width="1"/>
<rect x="695.54" y="752.62" width="5.96" height="1.88" fill="#0072bd" stroke="#000" stroke-width="1"/>
<rect x="701.5" y="753.25" width="5.96" height="1.25" fill="#0072bd" stroke="#000" stroke-width="1"/>
<rect x="707.46" y="752.62" width="5.96" height="1.88" fill="#0072bd" stroke="#000" stroke-width="1"/>
<rect x="713.42" y="753.25" width="5.96" height="1.25" fill="#0072bd" stroke="#000" stroke-width="1"/>
<rect x="719.38" y="753.25" width="5.96" height="1.25" fill="#0072bd" stroke="#000" stroke-width="1"/>
<rect x="725.34" y="753.88" width="5.96" height="0.62" fill="#0072bd" stroke="#000" stroke-width="1"/>
<rect x="731.3" y="753.88" width="5.96" height="0.62" fill="#0072bd" stroke="#000" stroke-width="1"/>
<rect x="737.26" y="753.88" width="5.96" height="0.62" fill="#0072bd" stroke="#000" stroke-width="1"/>
<polyline points="271.7,751.38 274.7,750.86 277.69,750.27 280.69,749.6 283.69,748.84 286.68,747.99 289.68,747.04 292.67,745.98 295.67,744.8 298.67,743.5 301.66,742.06 304.66,740.49 307.66,738.77 310.65,736.89 313.65,734.86 316.65,732.65 319.64,730.28 322.64,727.72 325.64,724.99 328.63,722.08 331.63,718.98 334.62,715.7 337.62,712.23 340.62,708.59 343.61,704.76 346.61,700.76 349.61,696.6 352.6,692.28 355.6,687.81 358.6,683.19 361.59,678.45 364.59,673.6 367.58,668.64 370.58,663.6 373.58,658.49 376.57,653.32 379.57,648.12 382.57,642.91 385.56,637.7 388.56,632.51 391.56,627.36 394.55,622.28 397.55,617.28 400.55,612.38 403.54,607.6 406.54,602.96 409.53,598.48 412.53,594.18 415.53,590.06 418.52,586.16 421.52,582.48 424.52,579.04 427.51,575.84 430.51,572.9 433.51,570.24 436.5,567.85 439.5,565.75 442.49,563.93 445.49,562.42 448.49,561.19 451.48,560.27 454.48,559.65 457.48,559.32 460.47,559.28 463.47,559.54 466.47,560.08 469.46,560.9 472.46,561.99 475.46,563.35 478.45,564.96 481.45,566.81 484.44,568.9 487.44,571.21 490.44,573.73 493.43,576.45 496.43,579.35 499.43,582.43 502.42,585.67 505.42,589.06 508.42,592.58 511.41,596.22 514.41,599.97 517.41,603.82 520.4,607.75 523.4,611.74 526.39,615.8 529.39,619.9 532.39,624.03 535.38,628.19 538.38,632.35 541.38,636.52 544.37,640.68 547.37,644.83 550.37,648.95 553.36,653.03 556.36,657.07 559.35,661.06 562.35,665 565.35,668.87 568.34,672.68 571.34,676.41 574.34,680.06 577.33,683.64 580.33,687.12 583.33,690.52 586.32,693.82 589.32,697.03 592.32,700.15 595.31,703.17 598.31,706.08 601.3,708.9 604.3,711.61 607.3,714.23 610.29,716.74 613.29,719.16 616.29,721.47 619.28,723.68 622.28,725.8 625.28,727.82 628.27,729.74 631.27,731.57 634.26,733.3 637.26,734.95 640.26,736.51 643.25,737.98 646.25,739.36 649.25,740.67 652.24,741.89 655.24,743.04 658.24,744.12 661.23,745.12 664.23,746.05 667.23,746.92 670.22,747.72 673.22,748.46 676.21,749.14 679.21,749.77 682.21,750.34 685.2,750.86 688.2,751.34" fill="none" stroke="#ff0000" stroke-width="2.8" stroke-linejoin="round" stroke-linecap="round"/>
<line x1="466.5" y1="754.5" x2="466.5" y2="504.5" stroke="#000" stroke-width="1" stroke-dasharray="15.9 9.16"/>
<line x1="693.5" y1="754.5" x2="693.5" y2="504.5" stroke="#000" stroke-width="1" stroke-dasharray="15.9 9.16"/>
<rect x="142.5" y="504.5" width="606" height="250" fill="none" stroke="#262626" stroke-width="1"/>
<line x1="171.3" y1="754.5" x2="171.3" y2="748.1" stroke="#262626" stroke-width="1"/>
<line x1="171.3" y1="504.5" x2="171.3" y2="510.9" stroke="#262626" stroke-width="1"/>
<line x1="336.75" y1="754.5" x2="336.75" y2="748.1" stroke="#262626" stroke-width="1"/>
<line x1="336.75" y1="504.5" x2="336.75" y2="510.9" stroke="#262626" stroke-width="1"/>
<line x1="502.2" y1="754.5" x2="502.2" y2="748.1" stroke="#262626" stroke-width="1"/>
<line x1="502.2" y1="504.5" x2="502.2" y2="510.9" stroke="#262626" stroke-width="1"/>
<line x1="667.65" y1="754.5" x2="667.65" y2="748.1" stroke="#262626" stroke-width="1"/>
<line x1="667.65" y1="504.5" x2="667.65" y2="510.9" stroke="#262626" stroke-width="1"/>
<line x1="142.5" y1="629.5" x2="148.9" y2="629.5" stroke="#262626" stroke-width="1"/>
<line x1="748.5" y1="629.5" x2="742.1" y2="629.5" stroke="#262626" stroke-width="1"/>
<text x="171.3" y="800.8" text-anchor="middle" font-size="36">0.46</text>
<text x="336.75" y="800.8" text-anchor="middle" font-size="36">0.48</text>
<text x="502.2" y="800.8" text-anchor="middle" font-size="36">0.5</text>
<text x="667.65" y="800.8" text-anchor="middle" font-size="36">0.52</text>
<text x="132.7" y="769.3" text-anchor="end" font-size="36">0</text>
<text x="132.7" y="644.3" text-anchor="end" font-size="36">200</text>
<text x="132.7" y="519.3" text-anchor="end" font-size="36">400</text>
<text x="60.5" y="629.5" text-anchor="middle" font-size="39.6" transform="rotate(-90 60.5 629.5)">Frequency</text>
<text x="445.2" y="842.5" text-anchor="middle" font-size="39.6">99.9 % CI/mm</text>
<line x1="1218" y1="504.5" x2="1218" y2="754.5" stroke="#dfdfdf" stroke-width="1"/>
<line x1="1390" y1="504.5" x2="1390" y2="754.5" stroke="#dfdfdf" stroke-width="1"/>
<line x1="1046" y1="727.6" x2="1562" y2="727.6" stroke="#dfdfdf" stroke-width="1"/>
<line x1="1046" y1="635.6" x2="1562" y2="635.6" stroke="#dfdfdf" stroke-width="1"/>
<line x1="1046" y1="543.6" x2="1562" y2="543.6" stroke="#dfdfdf" stroke-width="1"/>
<clipPath id="c4"><rect x="1046" y="504.5" width="516" height="250"/></clipPath>
<g clip-path="url(#c4)">
<line x1="1038" y1="727.4" x2="1562" y2="727.4" stroke="#262626" stroke-width="1.1" stroke-dasharray="15.5 9.5"/>
<line x1="1062.8" y1="715.8" x2="1562" y2="715.8" stroke="#ff0000" stroke-width="1.1" stroke-dasharray="15.6 9.5"/>
<line x1="1062.8" y1="739.9" x2="1562" y2="739.9" stroke="#ff0000" stroke-width="1.1" stroke-dasharray="15.6 9.5"/>
<polyline points="1062.8,646 1066.6,503.5 1070.3,553 1074.8,584 1081,627 1087.6,645 1096.4,673 1099,690 1105.3,752.5 1110.7,721.3 1117,705.2 1131.5,707 1149.2,708.7 1169.5,710.5 1193.5,709.5 1203.75,711.9 1218.75,714.7 1240,719.2 1270,722.2 1292.5,723 1325,723.5 1350,724.4 1375,725.2 1404,724.8 1430,726.5 1460,728.1 1500,729.1 1530,729.4 1562.4,729.6" fill="none" stroke="#0000ff" stroke-width="2.8" stroke-linejoin="round" stroke-dasharray="7 7.2"/>
<polyline points="1062.8,743.5 1066,737.9 1070,744.3 1080.4,739.5 1088.4,746.7 1093.2,749.9 1101.2,753.1 1116.5,755 1120.5,752.3 1130.1,740.8 1136.5,727.5 1149.2,709.5 1169.5,726.7 1193.5,721.5 1203.75,720.6 1218.75,718.75 1250,722 1275,724 1306,726.25 1325,728.75 1337.5,729.4 1350,730.6 1375,726.9 1404,725.6 1430,727.2 1460,728.6 1500,729.3 1530,729.6 1562.4,729.7" fill="none" stroke="#0000ff" stroke-width="2.8" stroke-linejoin="round" stroke-dasharray="7 7.2"/>
<polyline points="1062.8,683.5 1066.5,654.6 1070.3,649.8 1074.8,688.7 1087.6,707.5 1096.4,709.1 1105.3,753.1 1116.5,737.9 1131.5,728.3 1149.2,711 1169.5,721.5 1193.5,717.2 1218.75,717.5 1250,721.3 1275,723.1 1300,725.6 1325,727.75 1350,728.75 1375,726.5 1404,725 1430,726.8 1460,728.3 1500,729.5 1530,729.8 1562.4,729.9" fill="none" stroke="#0000ff" stroke-width="2.8" stroke-linejoin="round"/>
</g>
<rect x="1046" y="504.5" width="516" height="250" fill="none" stroke="#262626" stroke-width="1"/>
<line x1="1218" y1="754.5" x2="1218" y2="748.5" stroke="#262626" stroke-width="1"/>
<line x1="1218" y1="504.5" x2="1218" y2="510.5" stroke="#262626" stroke-width="1"/>
<line x1="1390" y1="754.5" x2="1390" y2="748.5" stroke="#262626" stroke-width="1"/>
<line x1="1390" y1="504.5" x2="1390" y2="510.5" stroke="#262626" stroke-width="1"/>
<line x1="1046" y1="727.6" x2="1052" y2="727.6" stroke="#262626" stroke-width="1"/>
<line x1="1562" y1="727.6" x2="1556" y2="727.6" stroke="#262626" stroke-width="1"/>
<line x1="1046" y1="635.6" x2="1052" y2="635.6" stroke="#262626" stroke-width="1"/>
<line x1="1562" y1="635.6" x2="1556" y2="635.6" stroke="#262626" stroke-width="1"/>
<line x1="1046" y1="543.6" x2="1052" y2="543.6" stroke="#262626" stroke-width="1"/>
<line x1="1562" y1="543.6" x2="1556" y2="543.6" stroke="#262626" stroke-width="1"/>
<text x="1046" y="801" text-anchor="middle" font-size="36">0</text>
<text x="1218" y="801" text-anchor="middle" font-size="36">500</text>
<text x="1390" y="801" text-anchor="middle" font-size="36">1000</text>
<text x="1562" y="801" text-anchor="middle" font-size="36">1500</text>
<text x="1035.8" y="742.4" text-anchor="end" font-size="36">0</text>
<text x="1035.8" y="650.4" text-anchor="end" font-size="36">0.2</text>
<text x="1035.8" y="558.4" text-anchor="end" font-size="36">0.4</text>
<text x="875" y="629.5" text-anchor="middle" font-size="39.6" transform="rotate(-90 875 629.5)">Deviation from</text>
<text x="924.5" y="631.5" text-anchor="middle" font-size="39.6" transform="rotate(-90 924.5 631.5)">estimated population</text>
<text x="974" y="629.5" text-anchor="middle" font-size="39.6" transform="rotate(-90 974 629.5)">mean/mm</text>
<text x="1304.3" y="840.5" text-anchor="middle" font-size="39.6">Number of measurements</text>
</svg></body></html>
